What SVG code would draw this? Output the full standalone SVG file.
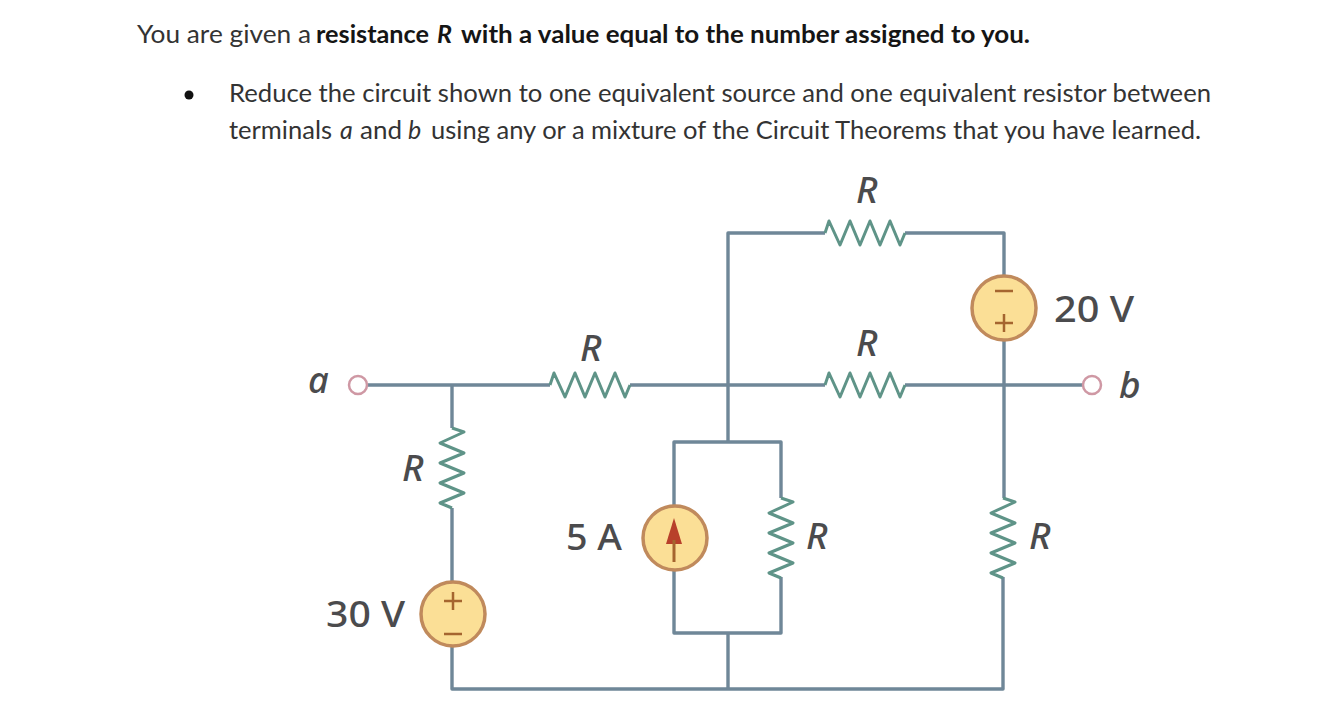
<svg xmlns="http://www.w3.org/2000/svg" width="1318" height="712" viewBox="0 0 1318 712">
<style>
.t{font-family:Lato,"Liberation Sans",sans-serif;font-size:25px;fill:#333}
.b{font-weight:700;fill:#151515}
.i{font-style:italic}
.l{font-family:"Noto Sans","Liberation Sans",sans-serif;font-size:37px;font-weight:500;fill:#4b4b4d}
.w{fill:none;stroke:#6f8798;stroke-width:3.4;stroke-linejoin:round}
.r{fill:none;stroke:#5f9488;stroke-width:3;stroke-linejoin:round}
.s{fill:#fbdf96;stroke:#c08a5c;stroke-width:3.5}
.m{fill:none;stroke:#a5652f;stroke-width:2.5}
.o{fill:#fff;stroke:#cf98a4;stroke-width:2.5}
</style>
<defs>
<path id="rh" d="M0 0L4 -12L15 12L25 -12L35 12L45 -12L55 12L65 -12L75 12L80 0"/>
<path id="rv" d="M0 0L12 4L-12 15L12 25L-12 35L12 45L-12 55L12 65L-12 75L0 80"/>
</defs>
<rect width="1318" height="712" fill="#fff"/>
<g id="instructions">
<text class="t" x="137" y="43" textLength="174" lengthAdjust="spacingAndGlyphs">You are given a</text>
<text class="t b" x="316" y="43" textLength="113" lengthAdjust="spacingAndGlyphs">resistance</text>
<text class="t b i" x="437" y="43">R</text>
<text class="t b" x="461" y="43" textLength="569" lengthAdjust="spacingAndGlyphs">with a value equal to the number assigned to you.</text>
<circle cx="189" cy="95" r="4.5" fill="#111"/>
<text class="t" x="229" y="102" textLength="982" lengthAdjust="spacingAndGlyphs">Reduce the circuit shown to one equivalent source and one equivalent resistor between</text>
<text class="t" x="229" y="139" textLength="103" lengthAdjust="spacingAndGlyphs">terminals</text>
<text class="t i" x="340" y="139">a</text>
<text class="t" x="360" y="139" textLength="42" lengthAdjust="spacingAndGlyphs">and</text>
<text class="t i" x="408" y="139">b</text>
<text class="t" x="431" y="139" textLength="770" lengthAdjust="spacingAndGlyphs">using any or a mixture of the Circuit Theorems that you have learned.</text>
</g>
<g id="connectors">
<path class="w" d="M368 385H550M630 385H825M905 385H1083"/>
<path class="w" d="M452 385V428M452 508V582M452 646V689H1003V577"/>
<path class="w" d="M728 385V233H825M905 233H1004V275M1004 341V498"/>
<path class="w" d="M728 385V442M674 505V442H781V498M781 577V633H674V571M728 633V689"/>
</g>
<g id="terminal-a"><circle class="o" cx="358" cy="385" r="9"/><text class="l i" x="308" y="393" style="font-size:36px">a</text></g>
<g id="terminal-b"><circle class="o" cx="1092" cy="385" r="9"/><text class="l i" x="1119" y="398">b</text></g>
<g id="r-left-h"><use href="#rh" class="r" x="550" y="385"/><text class="l i" x="580" y="361">R</text></g>
<g id="r-mid-h"><use href="#rh" class="r" x="825" y="385"/><text class="l i" x="856" y="356">R</text></g>
<g id="r-top"><use href="#rh" class="r" x="825" y="233"/><text class="l i" x="856" y="203">R</text></g>
<g id="r-left-v"><use href="#rv" class="r" x="452" y="428"/><text class="l i" x="402" y="481">R</text></g>
<g id="r-mid-v"><use href="#rv" class="r" x="781" y="498"/><text class="l i" x="806" y="549">R</text></g>
<g id="r-right-v"><use href="#rv" class="r" x="1003" y="498"/><text class="l i" x="1029" y="549">R</text></g>
<g id="source-20v">
<circle class="s" cx="1004" cy="308" r="32"/>
<path class="m" d="M995 291H1013M995 323H1013M1004 314V332"/>
<text class="l" x="1054" y="322" textLength="80" lengthAdjust="spacingAndGlyphs">20 V</text>
</g>
<g id="source-30v">
<circle class="s" cx="453" cy="614" r="32"/>
<path class="m" d="M444 601H462M453 592V610M444 634H462"/>
<text class="l" x="326" y="627" textLength="79" lengthAdjust="spacingAndGlyphs">30 V</text>
</g>
<g id="source-5a">
<circle class="s" cx="675" cy="538" r="32"/>
<path d="M674 518L682 544H666Z" fill="#b8402a"/>
<path d="M674 540V562" stroke="#a5652f" stroke-width="3"/>
<text class="l" x="566" y="550" textLength="56" lengthAdjust="spacingAndGlyphs">5 A</text>
</g>
</svg>
